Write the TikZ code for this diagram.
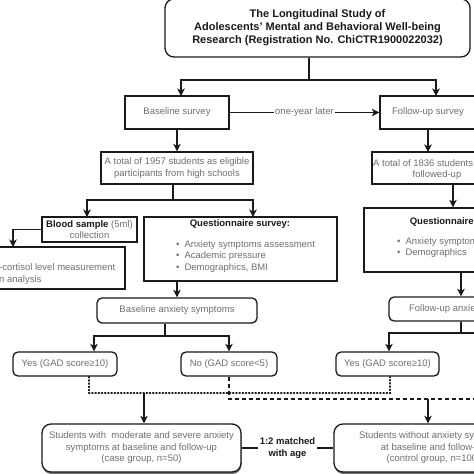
\documentclass[tikz,border=0pt]{standalone}
\usepackage{fontspec}
\setmainfont{Liberation Sans}
\usetikzlibrary{arrows.meta,shadows}
\definecolor{txt}{HTML}{707070}
\definecolor{ink}{HTML}{1A1A1A}
\begin{document}
\begin{tikzpicture}[x=1pt,y=-1pt,
  box/.style={draw=ink,line width=1.3pt,inner sep=0pt,text=txt,font=\fontsize{9.5}{11.5}\selectfont,align=center},
  rbox/.style={box,rounded corners=5pt},
  plain/.style={inner sep=0pt,text=txt,font=\fontsize{9.5}{11.5}\selectfont},
  bold/.style={inner sep=0pt,text=ink,font=\fontsize{9.5}{11.5}\selectfont\bfseries},
  conn/.style={draw=ink,line width=1.3pt},
  arr/.style={conn,-{Stealth[length=7.5pt,width=7.5pt,inset=2pt]}},
  lbl/.style={fill=white,inner sep=1.5pt,text=txt,font=\fontsize{9.5}{11.5}\selectfont},
  shade/.style={drop shadow={shadow xshift=0.5pt,shadow yshift=-2pt,fill=black!70,opacity=0.8}}
]
\useasboundingbox (0,0) rectangle (474,474);
\clip (0,0) rectangle (474,474);
\fill[white] (0,0) rectangle (474,474);

% title
\node[rbox,rounded corners=9pt,minimum width=305pt,minimum height=58pt,text=ink,
      font=\fontsize{11}{13}\selectfont\bfseries] (title) at (317.5,28)
  {The Longitudinal Study of\\Adolescents' Mental and Behavioral Well-being\\Research (Registration No. ChiCTR1900022032)};

% survey boxes
\node[box,minimum width=104pt,minimum height=33pt] (base) at (177,112.5) {Baseline survey};
\node[box,minimum width=104pt,minimum height=33pt] (follow) at (432,112.5) {\hspace*{-8pt}Follow-up survey};

\node[box,minimum width=152pt,minimum height=32pt] (tot1) at (177,168)
  {A total of 1957 students as eligible\\participants from high schools};
\node[box,minimum width=130pt,minimum height=32pt] (tot2) at (437,168) {};
\node[plain,anchor=west] (tot2a) at (373,163) {A total of 1836 students};
\node[plain] (tot2b) at (437,175) {followed-up};

% blood / cortisol
\node[box,minimum width=95pt,minimum height=25pt] (blood) at (89.5,229.5)
  {\textcolor{ink}{\bfseries Blood sample} (5ml)\\collection};
\node[box,minimum width=185pt,minimum height=42pt] (cort) at (32.5,268) {};
\node[plain,anchor=west,align=left] (cortt) at (-1,274)
  {-cortisol level measurement\\n analysis};

% questionnaires
\node[box,minimum width=193pt,minimum height=64pt] (q1) at (240.5,249) {};
\node[bold] (q1t) at (240,224) {Questionnaire survey:};
\node[plain,anchor=north west,align=left] (q1l) at (176,239)
  {\begin{tabular}{@{}l@{\hspace{5pt}}l@{}}\textbullet&Anxiety symptoms assessment\\
   \textbullet&Academic pressure\\ \textbullet&Demographics, BMI\end{tabular}};

\node[box,minimum width=193pt,minimum height=64pt] (q2) at (460.5,240) {};
\node[bold] (q2t) at (460,222) {Questionnaire survey:};
\node[plain,anchor=north west,align=left] (q2l) at (397,236)
  {\begin{tabular}{@{}l@{\hspace{5pt}}l@{}}\textbullet&Anxiety symptoms assessment\\
   \textbullet&Demographics\end{tabular}};

% anxiety
\node[rbox,minimum width=160pt,minimum height=25pt] (banx) at (177,310.5) {Baseline anxiety symptoms};
\node[rbox,minimum width=160pt,minimum height=24pt] (fanx) at (469,309) {Follow-up anxiety symptoms};

\node[rbox,minimum width=104pt,minimum height=24pt] (yes1) at (65,364) {Yes (GAD score≥10)};
\node[rbox,minimum width=96pt,minimum height=24pt] (no1) at (229,364) {No (GAD score<5)};
\node[rbox,minimum width=103pt,minimum height=24pt] (yes2) at (387.5,364) {Yes (GAD score≥10)};

% groups
\node[rbox,rounded corners=9pt,shade,fill=white,minimum width=199pt,minimum height=48pt] (case) at (141.5,448)
  {Students with\ \ moderate and severe anxiety\\symptoms at baseline and follow-up\\(case group, n=50)};
\node[rbox,rounded corners=9pt,shade,fill=white,minimum width=199pt,minimum height=48pt] (ctrl) at (433.5,448)
  {Students without anxiety symptoms\\at baseline and follow-up\\(control group, n=100)};

% connectors
\coordinate (tj) at (309,80);
\draw[conn] (title.south -| tj) -- (tj);
\draw[arr] (tj) -| (181,96);
\draw[arr] (tj) -| (436,96);
\draw[arr] (base.east) -- node[lbl] (oyl) {one-year later} (follow.west);
\draw[arr] (base.south) -- (tot1.north);
\draw[arr] (428,129) -- (428,152);

\coordinate (bj) at (173,200);
\draw[conn] (tot1.south -| bj) -- (bj);
\draw[arr] (bj) -| (87,217);
\draw[arr] (bj) -| (253,217);
\draw[arr] (blood.west) -| (13,247);

\draw[arr] (q1.south -| banx.north) -- (banx.north);
\draw[arr] (tot2.south -| 453,0) -- (q2.north -| 453,0);
\draw[arr] (q2.south -| 461,0) -- (fanx.north -| 461,0);

\coordinate (aj) at (165,336);
\draw[conn] (banx.south -| aj) -- (aj);
\draw[arr] (aj) -| (yes1.north -| 94,0);
\draw[arr] (aj) -| (no1.north);

\coordinate (fj) at (461,333);
\draw[conn] (fanx.south -| fj) -- (fj);
\draw[arr] (fj) -| (yes2.north -| 389,0);
\draw[conn] (fj) -- (500,333);

% dotted / dashed merges
\draw[ink,line width=1.2pt,dotted,line cap=round] (yes1.south -| 89,0) |- (390,393) -- (yes2.south -| 390,0);
\draw[arr] (144,393) -- (case.north -| 144,0);
\draw[ink,line width=1.2pt,dash pattern=on 4pt off 3pt] (no1.south) |- (500,399);
\draw[arr] (428,399) -- (ctrl.north -| 428,0);

\draw[conn] (case.east) -- node[fill=white,inner sep=2pt,text=ink,align=center,
   font=\fontsize{9.5}{12}\selectfont\bfseries] (match) {1:2 matched\\with age} (ctrl.west);
\end{tikzpicture}
\end{document}
